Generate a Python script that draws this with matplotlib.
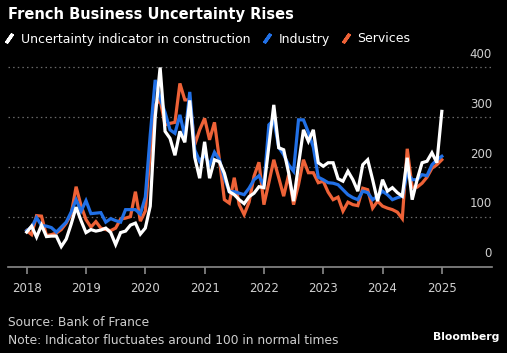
import matplotlib.pyplot as plt
import numpy as np
import pandas as pd
from matplotlib.lines import Line2D

# monthly readings, Jan 2018 .. Jan 2025
months = pd.date_range("2018-01-01", periods=85, freq="MS")

construction = [70, 82, 60, 84, 61, 62, 62, 41, 56, 86, 120, 93,
                69, 75, 72, 74, 78, 69, 45, 69, 72, 84, 88, 66,
                78, 122, 300, 400, 272, 258, 224, 272, 250, 334, 220, 178,
                251, 178, 215, 211, 188, 151, 145, 135, 127, 141, 148, 161,
                159, 242, 325, 239, 235, 189, 132, 205, 275, 252, 275, 209,
                202, 209, 209, 177, 172, 192, 175, 152, 205, 215, 175, 132,
                175, 152, 159, 149, 142, 219, 135, 175, 209, 212, 229, 209,
                312]
industry = [73, 80, 99, 83, 82, 79, 70, 80, 90, 110, 135, 112,
            133, 107, 108, 109, 90, 97, 93, 90, 115, 115, 115, 106,
            140, 265, 375, 338, 310, 275, 268, 305, 262, 351, 235, 212,
            225, 205, 230, 215, 178, 151, 151, 148, 145, 158, 175, 183,
            163, 285, 295, 240, 225, 205, 192, 295, 295, 270, 240, 180,
            175, 169, 168, 165, 155, 145, 139, 135, 152, 149, 135, 142,
            152, 145, 135, 139, 142, 189, 175, 175, 185, 183, 205, 215,
            222]
services = [73, 65, 103, 102, 63, 65, 68, 75, 88, 106, 161, 123,
            95, 80, 91, 78, 75, 73, 78, 96, 98, 101, 151, 92,
            112, 230, 325, 335, 285, 288, 290, 368, 335, 335, 245, 275,
            298, 255, 290, 215, 135, 128, 179, 125, 105, 130, 182, 210,
            125, 169, 215, 179, 142, 185, 125, 165, 215, 189, 189, 169,
            172, 150, 135, 140, 112, 130, 125, 123, 158, 155, 118, 132,
            122, 118, 115, 110, 97, 237, 160, 160, 168, 180, 198, 205,
            215]

years = [2018, 2019, 2020, 2021, 2022, 2023, 2024, 2025]
yticks = [0, 100, 200, 300, 400]

x = months.year + (months.month - 1) / 12

WHITE = "#ffffff"
BLUE = "#2170e6"
ORANGE = "#ee6237"
GREY = "#cfcfcf"

plt.rcParams["font.family"] = "DejaVu Sans"
fig = plt.figure(figsize=(5.07, 3.53), dpi=100, facecolor="black")
ax = fig.add_axes([8 / 507, 0.2436, 484 / 507, 0.6006], facecolor="black")

ax.plot(x, services, color=ORANGE, lw=2.3, solid_joinstyle="miter")
ax.plot(x, industry, color=BLUE, lw=2.3, solid_joinstyle="miter")
ax.plot(x, construction, color=WHITE, lw=2.3, solid_joinstyle="miter")

ax.set_xlim(2017.685, 2025.846)
ax.set_ylim(0, 425)

for s in ["top", "right", "left"]:
    ax.spines[s].set_visible(False)
ax.spines["bottom"].set_color("#8a8a8a")
ax.spines["bottom"].set_linewidth(1.2)

ax.set_xticks(years)
ax.set_xticklabels([str(y) for y in years])
ax.tick_params(axis="x", colors="#8a8a8a", length=5, width=1.2,
               labelcolor=GREY, labelsize=8.5, pad=6)

ax.set_yticks(yticks[1:])
ax.set_yticklabels([])
ax.tick_params(axis="y", length=0)
ax.grid(axis="y", color="#6a6a6a", linestyle=(0, (1.2, 2.5)), lw=0.9)
for v in yticks:
    ax.annotate(str(v), xy=(1, v), xycoords=("axes fraction", "data"),
                xytext=(0, 9.5), textcoords="offset points",
                ha="right", va="center", color=GREY, fontsize=8.5)

fig.text(8 / 507, 1 - 15 / 353, "French Business Uncertainty Rises",
         color="white", fontsize=10.5, fontweight="bold", va="center")

handles = [Line2D([], [], color=c, marker=(2, 2, -35), markersize=8,
                  markeredgewidth=2.4, linestyle="none")
           for c in (WHITE, BLUE, ORANGE)]
leg = fig.legend(handles,
                 ["Uncertainty indicator in construction", "Industry", "Services"],
                 loc="center left", bbox_to_anchor=(0.0, 1 - 39 / 353),
                 ncol=3, frameon=False, fontsize=9, labelcolor="white",
                 handlelength=0.9, handletextpad=0.45, columnspacing=0.9,
                 borderaxespad=0, borderpad=0.3)

fig.text(8 / 507, 1 - 323 / 353, "Source: Bank of France",
         color=GREY, fontsize=8.8, va="center")
fig.text(8 / 507, 1 - 340 / 353, "Note: Indicator fluctuates around 100 in normal times",
         color=GREY, fontsize=8.8, va="center")
fig.text(499 / 507, 1 - 337 / 353, "Bloomberg", color="white",
         fontsize=7.8, fontweight="bold", ha="right", va="center")

fig.savefig("out.png", dpi=100, facecolor="black")
